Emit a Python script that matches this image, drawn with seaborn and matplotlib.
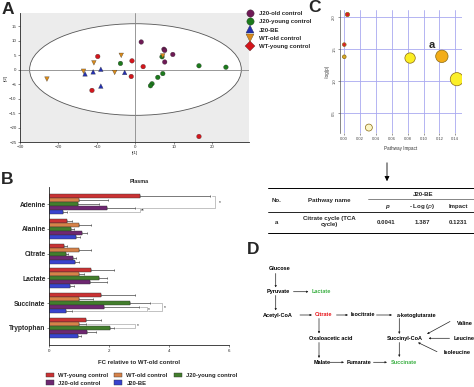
import numpy as np
import pandas as pd
import matplotlib.pyplot as plt
from matplotlib.patches import Ellipse
import seaborn as sns

sns.set_style("ticks")
plt.rcParams['font.family'] = ['Liberation Sans', 'DejaVu Sans']

# ---- panel A: score plot ----
groups_a = ["J20-old control", "J20-young control", "J20-BE", "WT-old control", "WT-young control"]
j20_old_t1 = [1.5, 7.4, 7.6, 9.7, 7.6]
j20_old_t2 = [9.5, 7.0, 6.6, 5.2, 2.6]
j20_young_t1 = [-3.9, 6.9, 7.1, 5.8, 4.3, 3.9, 16.5, 23.5]
j20_young_t2 = [2.1, 4.4, -1.4, -2.7, -4.9, -5.6, 1.3, 0.8]
j20_be_t1 = [-13.1, -11.0, -9.0, -2.8, -9.0]
j20_be_t2 = [-1.5, -0.8, 0.1, -1.0, -5.7]
wt_old_t1 = [-23.0, -13.5, -10.8, -3.7, -5.4, 7.1]
wt_old_t2 = [-3.3, -0.6, 2.3, 4.9, -1.0, 4.7]
wt_young_t1 = [-9.8, -0.9, 2.0, -1.1, -11.3, 16.5]
wt_young_t2 = [4.5, 3.0, 1.0, -2.4, -7.2, -23.1]

# ---- panel B: fold change ----
metabolites = ["Adenine", "Alanine", "Citrate", "Lactate", "Succinate", "Tryptophan"]
groups_b = ["WT-young control", "WT-old control", "J20-young control", "J20-old control", "J20-BE"]
fc_wt_young = [3.03, 0.61, 0.50, 1.40, 1.73, 1.23]
fc_wt_old = [1.00, 1.00, 1.00, 1.00, 1.00, 1.00]
fc_j20_young = [0.98, 0.72, 0.55, 1.65, 2.70, 2.03]
fc_j20_old = [1.92, 1.11, 0.81, 1.36, 1.84, 1.25]
fc_j20_be = [0.45, 0.91, 0.88, 0.71, 0.58, 0.95]
sem_wt_young = [2.35, 0.14, 0.10, 0.75, 1.15, 0.49]
sem_wt_old = [0.97, 0.41, 0.41, 0.17, 0.45, 0.22]
sem_j20_young = [0.70, 0.10, 0.09, 0.27, 0.65, 0.15]
sem_j20_old = [0.94, 0.16, 0.10, 0.58, 1.15, 0.33]
sem_j20_be = [0.15, 0.11, 0.11, 0.11, 0.19, 0.12]

# ---- panel C: pathway impact ----
pathways = ["p1", "p2", "p3", "p4", "a", "p6", "p7"]
impact = [0.004, 0.0, 0.0, 0.083, 0.1231, 0.142, 0.031]
neglogp = [2.04, 1.57, 1.38, 1.36, 1.387, 1.03, 0.275]

W, H = 474, 387
fig = plt.figure(figsize=(W / 100, H / 100), dpi=100)


def rect(l, t, r, b):
    return [l / W, 1 - b / H, (r - l) / W, (b - t) / H]


# ================= A =================
dfA = pd.DataFrame({
    "t1": j20_old_t1 + j20_young_t1 + j20_be_t1 + wt_old_t1 + wt_young_t1,
    "t2": j20_old_t2 + j20_young_t2 + j20_be_t2 + wt_old_t2 + wt_young_t2,
    "group": [groups_a[0]] * len(j20_old_t1) + [groups_a[1]] * len(j20_young_t1)
    + [groups_a[2]] * len(j20_be_t1) + [groups_a[3]] * len(wt_old_t1)
    + [groups_a[4]] * len(wt_young_t1),
})
colors_a = {"J20-old control": "#6e1a55", "J20-young control": "#1c7a1c",
            "J20-BE": "#2430b0", "WT-old control": "#d98a1a", "WT-young control": "#d3161c"}
markers_a = {"J20-old control": "o", "J20-young control": "o", "J20-BE": "^",
             "WT-old control": "v", "WT-young control": "o"}

axA = fig.add_axes(rect(20, 13, 249, 142))
axA.set_facecolor("#ececec")
axA.add_patch(Ellipse((0, 0), 55, 31.6, facecolor="white", edgecolor="#555555", lw=0.6, zorder=0))
axA.axhline(0, color="#888888", lw=0.6, zorder=1)
axA.axvline(0, color="#888888", lw=0.6, zorder=1)
sns.scatterplot(data=dfA, x="t1", y="t2", hue="group", style="group", hue_order=groups_a,
                style_order=groups_a, palette=colors_a, markers=markers_a, s=11,
                edgecolor="#222222", linewidth=0.2, ax=axA, zorder=3)
axA.set_xlim(-30, 29.5)
axA.set_ylim(-25, 19.5)
axA.set_xticks([-30, -20, -10, 0, 10, 20])
axA.set_yticks([-25, -20, -15, -10, -5, 0, 5, 10, 15])
axA.tick_params(labelsize=3.2, length=1.5, width=0.4, pad=1, colors="#333333")
axA.set_xlabel("t[1]", fontsize=3.2, labelpad=1)
axA.set_ylabel("t[2]", fontsize=3.2, labelpad=1)
for s in ["top", "right"]:
    axA.spines[s].set_visible(False)
for s in ["left", "bottom"]:
    axA.spines[s].set_linewidth(0.6)
sns.move_legend(axA, "upper left", bbox_to_anchor=((247 - 20) / 229, 1.015), frameon=False,
                title=None, prop={"weight": "bold", "size": 4.3}, borderaxespad=0, borderpad=0,
                handlelength=1.0, handletextpad=1.0, labelspacing=0.5, markerscale=1.6)
axA.get_legend().legend_handles[4].set_marker("D")

# ================= B =================
fc_all = [fc_wt_young, fc_wt_old, fc_j20_young, fc_j20_old, fc_j20_be]
sem_all = [sem_wt_young, sem_wt_old, sem_j20_young, sem_j20_old, sem_j20_be]
dfB = pd.DataFrame({
    "metabolite": metabolites * len(groups_b),
    "group": [g for g in groups_b for _ in metabolites],
    "fc": [v for vals in fc_all for v in vals],
})
colors_b = {"WT-young control": "#e3191c", "WT-old control": "#ee7d31",
            "J20-young control": "#3b8b1f", "J20-old control": "#7a1b7d", "J20-BE": "#1f2ee8"}

axB = fig.add_axes(rect(49, 187, 229, 345))
sns.barplot(data=dfB, x="fc", y="metabolite", hue="group", order=metabolites, hue_order=groups_b,
            palette=colors_b, orient="h", errorbar=None, width=0.8, edgecolor="#333333",
            linewidth=0.3, ax=axB)
pos = {}
for cont, g, sems in zip(axB.containers, groups_b, sem_all):
    for bar in cont:
        yc = bar.get_y() + bar.get_height() / 2
        i = int(round(yc))
        pos[(g, i)] = (bar.get_width() + sems[i], yc)
        axB.errorbar(bar.get_width(), yc, xerr=[[0], [sems[i]]], fmt="none", ecolor="#444444",
                     elinewidth=0.5, capsize=1.0, capthick=0.5)


def bracket(g1, g2, i, xv, x1s, x2s, label, dx=0.12):
    y1 = pos[(g1, i)][1]
    y2 = pos[(g2, i)][1]
    axB.plot([x1s, xv, xv, x2s], [y1, y1, y2, y2], color="#aaaaaa", lw=0.5)
    axB.text(xv + dx, (y1 + y2) / 2, label, fontsize=3.5, ha="center", va="center")


bracket("WT-young control", "J20-old control", 0, 5.53, 5.42, 3.05, "*", 0.17)
bracket("J20-old control", "J20-BE", 0, 3.02, 2.9, 0.65, "**", 0.12)
bracket("J20-young control", "J20-BE", 4, 3.76, 3.4, 3.3, "*", 0.1)
bracket("J20-old control", "J20-BE", 4, 3.26, 3.02, 0.8, "*", 0.08)
bracket("WT-old control", "J20-young control", 5, 2.87, 1.25, 2.2, "*", 0.1)

axB.set_xlim(0, 6)
axB.set_xticks([0, 2, 4, 6])
axB.set_ylabel("")
axB.set_xlabel("FC relative to WT-old control", fontsize=4.3, fontweight="bold", labelpad=5)
axB.set_title("Plasma", fontsize=4, fontweight="bold", pad=3)
axB.tick_params(axis="x", labelsize=3.2, length=1.5, width=0.4, pad=1.5)
axB.tick_params(axis="y", labelsize=4.8, length=1.5, width=0.4, pad=1)
for lab in axB.get_yticklabels():
    lab.set_fontweight("bold")
sns.despine(ax=axB)
for s in ["left", "bottom"]:
    axB.spines[s].set_linewidth(0.6)
h, l = axB.get_legend_handles_labels()
order = [0, 3, 1, 4, 2]
axB.legend([h[k] for k in order], [l[k] for k in order], ncol=3, loc="upper left",
           bbox_to_anchor=((46 - 49) / 180, -0.175), frameon=False,
           prop={"weight": "bold", "size": 4.2}, borderaxespad=0, borderpad=0,
           handlelength=1.4, handleheight=0.9, handletextpad=0.7, columnspacing=1.0,
           labelspacing=0.35)

# ================= C =================
dfC = pd.DataFrame({"pathway": pathways, "impact": impact, "neglogp": neglogp})
colors_c = {"p1": "#dd1a22", "p2": "#e0202a", "p3": "#d8a828", "p4": "#fbee22",
            "a": "#f3ad18", "p6": "#fbef28", "p7": "#fbf6c6"}
axC = fig.add_axes(rect(340, 10, 462, 133))
axC.grid(True, color="#a8a8f0", lw=0.6)
axC.set_axisbelow(True)
sns.scatterplot(data=dfC, x="impact", y="neglogp", hue="pathway", palette=colors_c,
                size="impact", sizes=(7, 92), size_norm=(0, 0.145), edgecolor="#8a6a10",
                linewidth=0.5, legend=False, ax=axC, zorder=3)
axC.text(0.110, 1.57, "a", fontsize=8, fontweight="bold", ha="center", va="center")
axC.set_xlim(-0.0054, 0.1485)
axC.set_ylim(0.19, 2.11)
axC.set_xticks(np.arange(0, 0.141, 0.02))
axC.set_xticklabels([f"{v:.2f}" for v in np.arange(0, 0.141, 0.02)])
axC.set_yticks([0.5, 1.0, 1.5, 2.0])
axC.set_yticklabels(["0.5", "1.0", "1.5", "2.0"], rotation=90, va="center")
axC.tick_params(labelsize=3, length=1.2, width=0.4, pad=1.5, colors="#444444")
axC.set_xlabel("Pathway Impact", fontsize=3.3, labelpad=4, color="#333333")
axC.set_ylabel("-log(p)", fontsize=3.3, labelpad=2, color="#333333")
for s in ["top", "right", "bottom"]:
    axC.spines[s].set_visible(False)
axC.spines["left"].set_linewidth(0.5)
axC.spines["left"].set_color("#555555")

# ================= overlay: letters, table, D =================
ov = fig.add_axes([0, 0, 1, 1])
ov.set_xlim(0, W)
ov.set_ylim(H, 0)
ov.axis("off")

for letter, x, y in [("A", 2, 10), ("B", 1, 180), ("C", 308, 7), ("D", 247, 250)]:
    ov.text(x, y, letter, fontsize=12.5, fontweight="bold", ha="left", va="center")

ov.annotate("", xy=(387, 184), xytext=(387, 160),
            arrowprops=dict(arrowstyle="-|>", lw=0.6, color="black", mutation_scale=7))

ov.plot([268, 474], [187.5, 187.5], color="black", lw=0.7)
ov.plot([368, 474], [198.5, 198.5], color="#555555", lw=0.5)
ov.plot([268, 474], [211.5, 211.5], color="black", lw=0.6)
ov.plot([268, 474], [232.5, 232.5], color="black", lw=0.7)
tb = dict(fontsize=4.4, fontweight="bold", ha="center", va="center")
ov.text(277, 200.5, "No.", **tb)
ov.text(329, 200.5, "Pathway name", **tb)
ov.text(423, 194, "J20-BE", **tb)
ov.text(387, 206.5, "p", fontsize=4.4, fontweight="bold", style="italic", ha="center", va="center")
ov.text(422, 206.5, r"- Log ($\it{p}$)", **tb)
ov.text(458, 206.5, "Impact", **tb)
ov.text(277, 222, "a", **tb)
ov.text(329, 221.8, "Citrate cycle (TCA\ncycle)", fontsize=4.4, fontweight="bold",
        ha="center", va="center", linespacing=1.2)
ov.text(386, 222, "0.0041", **tb)
ov.text(422, 222, "1.387", **tb)
ov.text(458, 222, "0.1231", **tb)

dt = dict(fontsize=4, fontweight="bold", ha="center", va="center")
nodes = [("Glucose", 280, 269, "black"), ("Pyruvate", 278, 291.7, "black"),
         ("Lactate", 321, 291.7, "#3cb044"), ("Acetyl-CoA", 277.5, 315, "black"),
         ("Citrate", 323.5, 315, "#e8141a"), ("Isocitrate", 363, 315, "black"),
         ("a-ketoglutarate", 417, 315, "black"), ("Valine", 464.5, 323.5, "black"),
         ("Oxaloacetic acid", 331, 338.3, "black"), ("Succinyl-CoA", 404.5, 338.3, "black"),
         ("Leucine", 464.5, 338.3, "black"), ("Isoleucine", 457, 352.3, "black"),
         ("Malate", 322, 362.3, "black"), ("Fumarate", 359.5, 362.3, "black"),
         ("Succinate", 403.5, 362.3, "#3cb044")]
for name, x, y, c in nodes:
    ov.text(x, y, name, color=c, **dt)

edges = [((275.7, 273.5), (275.7, 287.5)), ((275.7, 295.5), (275.7, 310.5)),
         ((293.5, 291.7), (308.5, 291.7)), ((300, 315), (312, 315)),
         ((336.5, 315), (348, 315)), ((376.5, 315), (392, 315)),
         ((319, 318.5), (319, 333.5)), ((319, 342.5), (319, 358)),
         ((330, 362.3), (344, 362.3)), ((373.5, 362.3), (387, 362.3)),
         ((399.3, 318.5), (399.3, 334)), ((399.3, 342.5), (399.3, 357)),
         ((450, 321.5), (427, 334)), ((449.5, 338.3), (428.5, 338.3)),
         ((437, 351.7), (418, 342.5))]
for (x0, y0), (x1, y1) in edges:
    ov.annotate("", xy=(x1, y1), xytext=(x0, y0),
                arrowprops=dict(arrowstyle="-|>", lw=0.5, color="#222222",
                                mutation_scale=2.5, shrinkA=0, shrinkB=0))

fig.savefig("out.png", dpi=100)
